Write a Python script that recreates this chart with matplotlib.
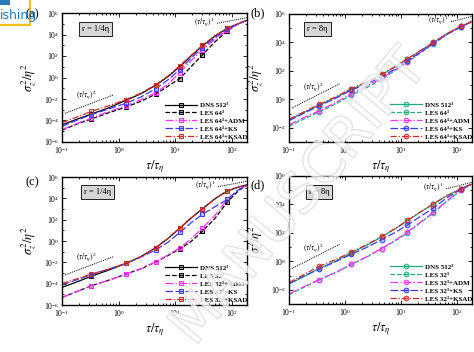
import numpy as np
import matplotlib
matplotlib.use("Agg")
import matplotlib.pyplot as plt
import matplotlib.colors as mcolors
import matplotlib.patheffects as pe
from matplotlib.patches import Rectangle
from matplotlib.lines import Line2D

plt.rcParams['font.family'] = ['Liberation Serif', 'DejaVu Serif']
plt.rcParams['mathtext.fontset'] = 'stix'

# ---- data (log10 of sigma^2/eta^2) ----
tau_l = [0.1, 0.18, 0.33, 0.65, 1.35, 2.5, 4.5, 7.5, 12, 19, 30, 50, 83, 130, 180]
tau_r = [0.1, 0.18, 0.35, 0.7, 1.3, 2.5, 4.5, 8, 13, 22, 38, 65, 120, 180]
marks = [2, 4, 6, 8, 10, 12]

# (a) r = 1/4 eta, LES 64^3
a_dns  = [-4.4, -3.9, -3.4, -2.85, -2.12, -1.5, -0.73, 0.1, 1.0, 2.0, 2.93, 3.85, 4.58, 5.0, 5.3]
a_les  = [-4.9, -4.35, -3.86, -3.3, -2.75, -2.2, -1.55, -0.8, -0.1, 1.0, 2.1, 3.3, 4.35, 5.0, 5.3]
a_adm  = [-4.85, -4.3, -3.77, -3.2, -2.62, -2.05, -1.42, -0.6, 0.45, 1.55, 2.55, 3.55, 4.4, 5.0, 5.3]
a_ks   = [-4.55, -4.0, -3.45, -2.95, -2.4, -1.8, -1.05, -0.2, 0.72, 1.8, 2.75, 3.7, 4.5, 5.0, 5.3]
a_ksad = [-4.2, -3.7, -3.15, -2.65, -2.05, -1.45, -0.67, 0.15, 1.1, 2.05, 2.98, 3.88, 4.6, 5.0, 5.3]

# (b) r = 8 eta, LES 64^3
b_dns  = [-1.45, -0.95, -0.4, 0.15, 0.7, 1.2, 1.72, 2.3, 2.83, 3.4, 4.0, 4.6, 5.15, 5.45]
b_les  = [-1.9, -1.4, -0.88, -0.3, 0.3, 0.85, 1.4, 2.05, 2.6, 3.25, 3.9, 4.55, 5.12, 5.45]
b_adm  = [-1.8, -1.3, -0.8, -0.2, 0.4, 0.95, 1.5, 2.1, 2.65, 3.3, 3.95, 4.58, 5.13, 5.45]
b_ks   = [-1.5, -1.0, -0.45, 0.1, 0.65, 1.1, 1.6, 2.15, 2.7, 3.3, 3.95, 4.55, 5.12, 5.45]
b_ksad = [-1.4, -0.9, -0.35, 0.2, 0.75, 1.25, 1.75, 2.33, 2.85, 3.42, 4.0, 4.6, 5.15, 5.45]

# (c) r = 1/4 eta, LES 32^3
c_dns  = [-4.35, -3.85, -3.3, -2.75, -2.1, -1.45, -0.63, 0.25, 1.2, 2.15, 3.0, 3.95, 4.69, 5.05, 5.25]
c_les  = [-5.3, -4.75, -4.2, -3.7, -3.1, -2.6, -1.97, -1.35, -0.75, -0.05, 0.9, 2.1, 3.65, 4.7, 5.2]
c_adm  = [-5.3, -4.75, -4.2, -3.7, -3.1, -2.6, -1.95, -1.3, -0.65, 0.2, 1.2, 2.4, 3.9, 4.8, 5.2]
c_ks   = [-4.1, -3.65, -3.15, -2.65, -2.1, -1.5, -0.84, -0.1, 0.8, 1.7, 2.5, 3.2, 3.9, 4.8, 5.2]
c_ksad = [-4.0, -3.55, -3.1, -2.65, -2.1, -1.45, -0.63, 0.25, 1.2, 2.15, 3.0, 3.95, 4.7, 5.05, 5.25]

# (d) r = 8 eta, LES 32^3
d_dns  = [-1.6, -1.1, -0.5, 0.05, 0.6, 1.15, 1.7, 2.3, 2.85, 3.45, 4.03, 4.6, 5.12, 5.42]
d_les  = [-2.35, -1.85, -1.3, -0.78, -0.22, 0.32, 0.88, 1.45, 2.0, 2.7, 3.4, 4.2, 5.02, 5.42]
d_adm  = [-2.3, -1.8, -1.28, -0.75, -0.2, 0.35, 0.9, 1.5, 2.06, 2.75, 3.45, 4.25, 5.05, 5.42]
d_ks   = [-1.55, -1.05, -0.53, 0.0, 0.5, 1.0, 1.52, 2.05, 2.55, 3.15, 3.75, 4.45, 5.1, 5.42]
d_ksad = [-1.5, -0.95, -0.34, 0.15, 0.65, 1.2, 1.75, 2.33, 2.88, 3.47, 4.05, 4.6, 5.12, 5.42]

# power-law guides: coefficient of tau^2 (low) and tau^1 (high), plus tau range
guide_lo = [0.0366, 19.3, 0.052, 24.7]
guide_hi = [2000, 3700, 2160, 1970]
guide_hi_start = [55, 78, 57, 64]
guide_lo_tau = [0.112, 0.82]

labels_64 = ['DNS 512³', 'LES 64³', 'LES 64³+ADM', 'LES 64³+KS', 'LES 64³+KSAD']
labels_32 = ['DNS 512³', 'LES 32³', 'LES 32³+ADM', 'LES 32³+KS', 'LES 32³+KSAD']

green = '#1fae7a'
red = '#d62a2a'
blue = '#3b3bff'
mag = '#ff33ff'
ksad_ls = (0, (5, 1.5, 1, 1.5))

W, H = 474, 352
fig = plt.figure(figsize=(W / 100, H / 100), dpi=100)

def box(x0, y0, x1, y1):
    return [x0 / W, 1 - y1 / H, (x1 - x0) / W, (y1 - y0) / H]

panels = [
    dict(rect=box(62, 13, 247, 142), tau=tau_l, ys=[a_dns, a_les, a_adm, a_ks, a_ksad],
         cols=['k', 'k', mag, blue, red], mk='s', lab=labels_64, ylim=(1e-6, 1e6),
         rtxt='r = 1/4η', rpos=(0.18, 0.876), tag='(a)', tagpos=(32, 14)),
    dict(rect=box(289, 14, 472, 142), tau=tau_r, ys=[b_dns, b_les, b_adm, b_ks, b_ksad],
         cols=[green, green, mag, blue, red], mk='o', lab=labels_64, ylim=(1e-3, 1e6),
         rtxt='r = 8η', rpos=(0.155, 0.883), tag='(b)', tagpos=(258, 13)),
    dict(rect=box(62, 177, 247, 305), tau=tau_l, ys=[c_dns, c_les, c_adm, c_ks, c_ksad],
         cols=['k', 'k', mag, blue, red], mk='s', lab=labels_32, ylim=(1e-6, 1e6),
         rtxt='r = 1/4η', rpos=(0.19, 0.883), tag='(c)', tagpos=(32, 182)),
    dict(rect=box(289, 176, 472, 304), tau=tau_r, ys=[d_dns, d_les, d_adm, d_ks, d_ksad],
         cols=[green, green, mag, blue, red], mk='o', lab=labels_32, ylim=(1e-3, 1e6),
         rtxt='r = 8η', rpos=(0.165, 0.875), tag='(d)', tagpos=(258, 185)),
]
styles = ['-', '--', '-.', (0, (6, 2)), ksad_ls]

for i, p in enumerate(panels):
    ax = fig.add_axes(p['rect'])
    ax.set_xscale('log')
    ax.set_yscale('log')
    tau = np.array(p['tau'])
    handles = []
    for y, c, ls, lab in zip(p['ys'], p['cols'], styles, p['lab']):
        kw = dict(color=c, ls=ls, lw=0.9, marker=p['mk'], ms=3.4, mew=0.7, mec=c,
                  mfc=mcolors.to_rgba(c, 0.3))
        ax.plot(tau, 10.0 ** np.array(y), markevery=marks, **kw)
        handles.append(Line2D([], [], label=lab, **kw))
    # guides
    tl = np.array(guide_lo_tau)
    ax.plot(tl, guide_lo[i] * tl ** 2, ls=(0, (1, 1)), color='k', lw=0.7)
    th = np.array([guide_hi_start[i], 250])
    ax.plot(th, guide_hi[i] * th, ls=(0, (1, 1)), color='k', lw=0.7)
    ax.annotate(r'$(\tau/\tau_\eta)^2$', xy=(0.27, guide_lo[i] * 0.27 ** 2), xytext=(0, 7),
                textcoords='offset points', fontsize=5.5, ha='center', va='center')
    ax.annotate(r'$(\tau/\tau_\eta)^1$', xy=(guide_hi_start[i], guide_hi[i] * guide_hi_start[i]),
                xytext=(-2, 1), textcoords='offset points', fontsize=5.5, ha='right', va='center')

    ax.set_xlim(0.1, 185)
    ax.set_ylim(*p['ylim'])
    lo = int(np.log10(p['ylim'][0]))
    major = [10.0 ** k for k in range(6, lo - 1, -2) if 10.0 ** k > p['ylim'][0] * 1.01 or k == -6]
    ax.set_yticks(major)
    ax.set_yticks([10.0 ** k for k in range(lo, 7) if 10.0 ** k not in major], minor=True)
    ax.yaxis.set_minor_formatter(plt.NullFormatter())
    ax.set_xticks([0.1, 1, 10, 100])
    ax.xaxis.set_minor_locator(matplotlib.ticker.LogLocator(subs=np.arange(2, 10), numticks=20))
    ax.xaxis.set_minor_formatter(plt.NullFormatter())
    ax.tick_params(which='both', direction='in', top=True, right=True, labelsize=5.5, width=0.6, pad=2)
    ax.tick_params(which='major', length=3)
    ax.tick_params(which='minor', length=1.5)
    for s in ax.spines.values():
        s.set_linewidth(1.0)

    ax.set_xlabel(r'$\tau/\tau_\eta$', fontsize=9)
    ax.set_ylabel(r'$\sigma_z^2/\eta^2$', fontsize=9)
    ax.xaxis.set_label_coords(0.5, -0.13)
    ax.yaxis.set_label_coords(-0.13, 0.5)

    ax.text(p['rpos'][0], p['rpos'][1], p['rtxt'], transform=ax.transAxes, fontsize=6,
            ha='center', va='center',
            bbox=dict(boxstyle='square,pad=0.35', fc='#d6d6d6', ec='k', lw=0.6))

    ax.legend(handles=handles, loc='lower right', bbox_to_anchor=(1.03, -0.02), frameon=False,
              prop=dict(size=5, weight='bold'), handlelength=4.6, numpoints=1,
              handletextpad=0.5, labelspacing=0.3, borderaxespad=0.3)

    fig.text(p['tagpos'][0] / W, 1 - p['tagpos'][1] / H, p['tag'], fontsize=9,
             ha='center', va='center')

# publisher logo fragment
fig.patches.append(Rectangle((-0.02, 1 - 25 / H), 39 / W, 0.2, fill=False,
                             ec='#f2c21b', lw=1.6, transform=fig.transFigure))
fig.patches.append(Rectangle((0, 1 - 5 / H), 10 / W, 5 / H, fc='#2a78b8', ec='none',
                             transform=fig.transFigure))
fig.text(0 / W, 1 - 15 / H, 'ishing', fontsize=9, color='#2a78b8', family='DejaVu Sans',
         ha='left', va='center')

# watermark
fig.text(300 / W, 1 - 198 / H, 'MANUSCRIPT', fontsize=40, rotation=50, family='DejaVu Sans',
         ha='center', va='center', color='white', alpha=0.5,
         path_effects=[pe.withStroke(linewidth=1.0, foreground='#b8b8b8')])

fig.savefig('out.png', dpi=100)
